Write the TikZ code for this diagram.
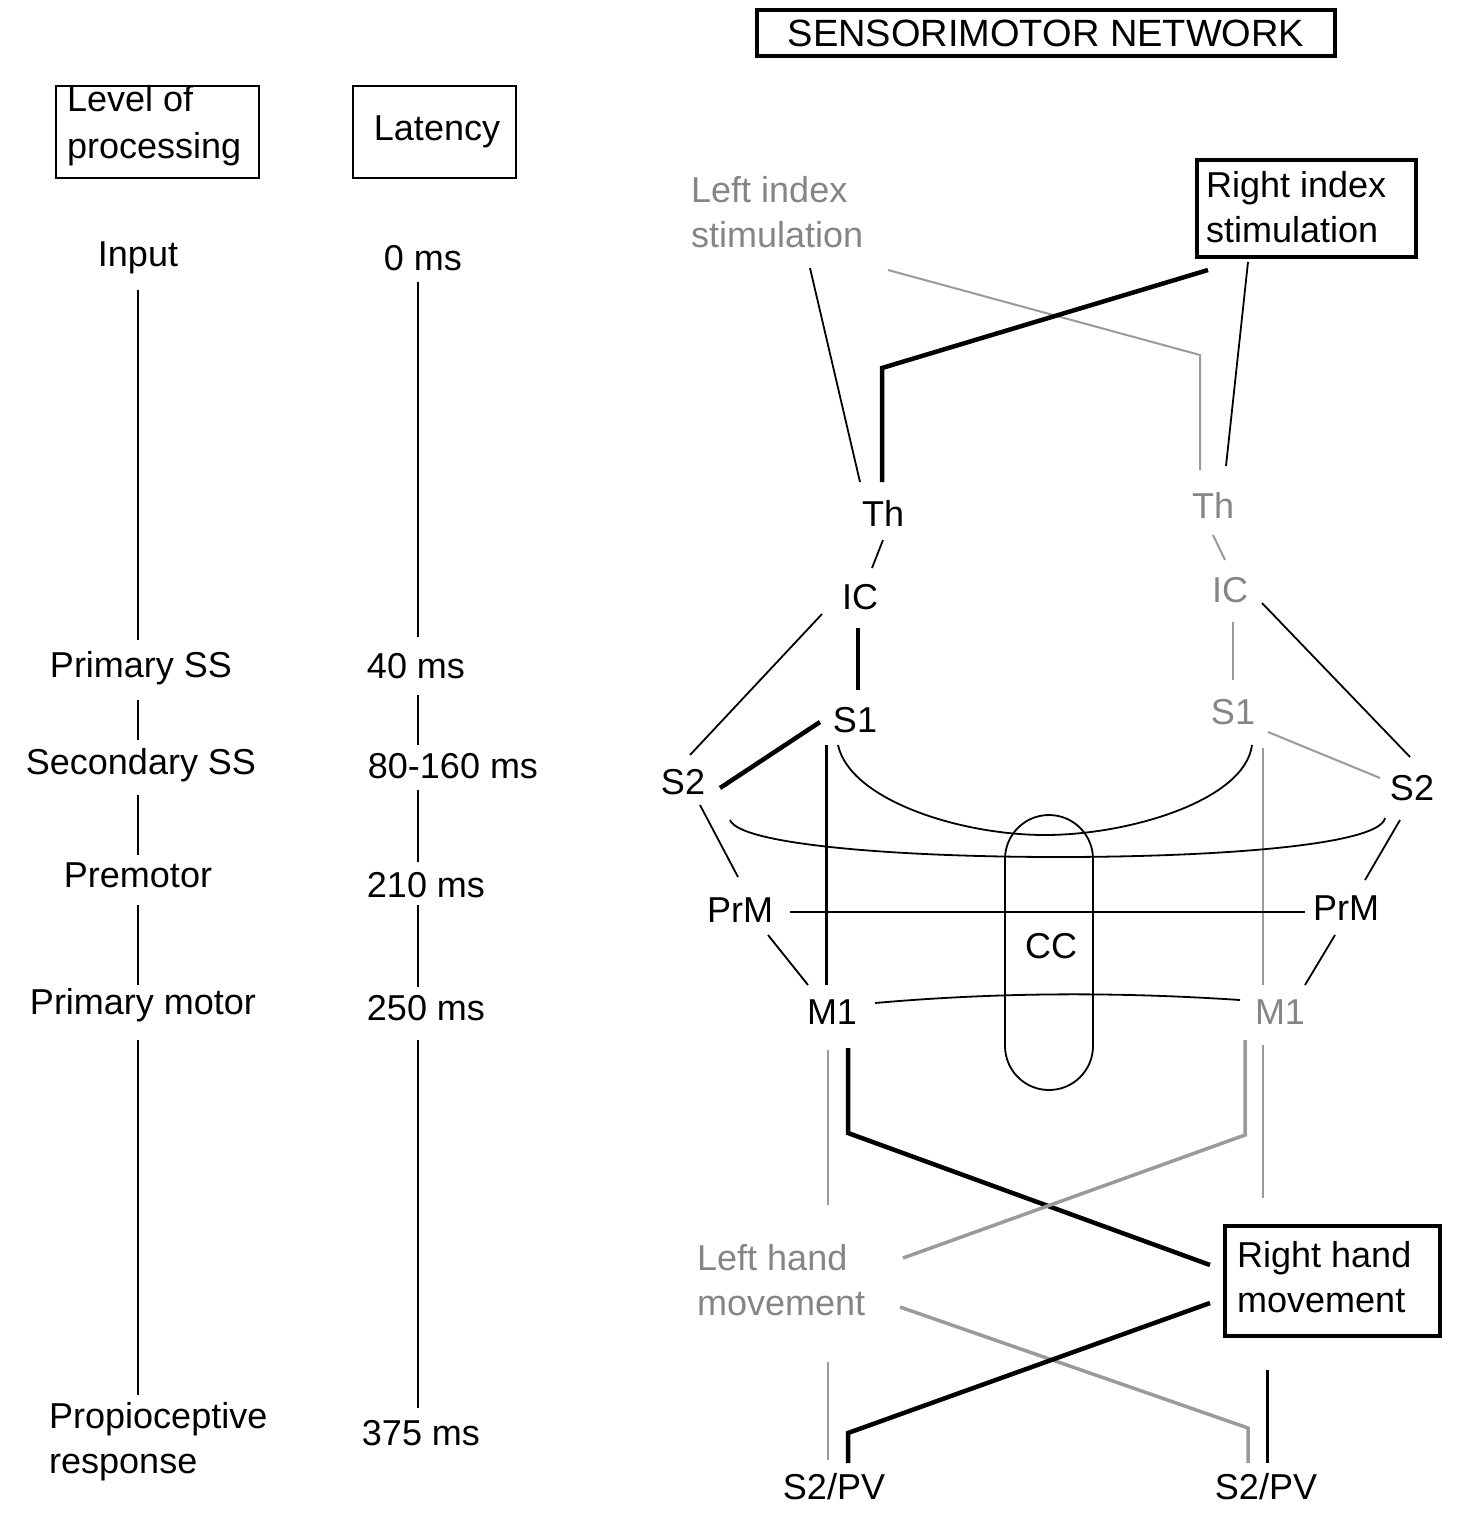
\documentclass[tikz,border=0pt]{standalone}
\usepackage{fontspec}
\setmainfont{Liberation Sans}
\definecolor{gtxt}{HTML}{858585}
\definecolor{gln}{HTML}{9A9A9A}
\begin{document}
\begin{tikzpicture}[x=1pt,y=-1pt,
  t/.style={inner sep=1pt,font=\fontsize{36}{45}\selectfont,align=left},
  g/.style={t,text=gtxt},
  bx/.style={draw,line width=2pt,inner sep=0pt},
  th/.style={line width=1.8pt},
  tk/.style={line width=4.5pt},
  gl/.style={draw=gln,line width=2pt},
  gk/.style={draw=gln,line width=3.5pt}]
\useasboundingbox (0,0) rectangle (1461,1521);
% header boxes
\draw[bx] (56,86) rectangle (259,178);
\node[t,anchor=north west,font=\fontsize{36}{47}\selectfont] (lvl) at (66,84) {Level of\\processing};
\draw[bx] (353,86) rectangle (516,178);
\node[t] (lat) at (437,132) {Latency};
\draw[bx,line width=3.5pt] (757,10) rectangle (1335,56);
\node[t,font=\fontsize{38}{45}\selectfont] (sn) at (1046,33) {SENSORIMOTOR NETWORK};
% left column
\node[t] (in) at (138,258) {Input};
\node[t] (pss) at (141,668) {Primary SS};
\node[t] (sss) at (141,765) {Secondary SS};
\node[t] (pm) at (138,875) {Premotor};
\node[t] (pmo) at (143,1005) {Primary motor};
\node[t,anchor=west] (pr) at (48,1442) {Propioceptive\\response};
\foreach \a/\b in {290/640,700/740,795/855,905/985,1040/1395}
  \draw[th] (138,\a) -- (138,\b);
\node[t] (l0) at (423,258) {0 ms};
\node[t] (l40) at (416,666) {40 ms};
\node[t] (l80) at (453,766) {80-160 ms};
\node[t] (l210) at (426,885) {210 ms};
\node[t] (l250) at (426,1008) {250 ms};
\node[t] (l375) at (421,1433) {375 ms};
\foreach \a/\b in {282/637,695/745,790/862,905/987,1040/1408}
  \draw[th] (418,\a) -- (418,\b);
% network labels
\node[g,anchor=west] (lis) at (690,212) {Left index\\stimulation};
\draw[bx,line width=3.5pt] (1197,160) rectangle (1416,257);
\node[t,anchor=west] (ris) at (1205,207) {Right index\\stimulation};
\node[t] (thl) at (883,513) {Th};
\node[g] (thr) at (1213,505) {Th};
\node[t] (icl) at (860,597) {IC};
\node[g] (icr) at (1230,590) {IC};
\node[t] (s1l) at (855,720) {S1};
\node[g] (s1r) at (1233,712) {S1};
\node[t] (s2l) at (683,782) {S2};
\node[t] (s2r) at (1412,788) {S2};
\node[t] (prl) at (740,910) {PrM};
\node[t] (prr) at (1346,908) {PrM};
\node[t] (m1l) at (832,1012) {M1};
\node[g] (m1r) at (1280,1012) {M1};
\node[t] (cc) at (1051,946) {CC};
\node[g,anchor=west] (lhm) at (696,1280) {Left hand\\movement};
\draw[bx,line width=3.5pt] (1225,1226) rectangle (1440,1336);
\node[t,anchor=west] (rhm) at (1236,1277) {Right hand\\movement};
\node[t] (pvl) at (834,1487) {S2/PV};
\node[t] (pvr) at (1266,1487) {S2/PV};
% connectors top
\draw[th] (810,268) -- (860,482);
\draw[th] (1248,262) -- (1226,466);
\draw[gl] (888,270) -- (1200,355) -- (1200,470);
\draw[tk] (1208,270) -- (882,368) -- (882,482);
\draw[th] (883,540) -- (872,568);
\draw[gl] (1213,535) -- (1225,560);
\draw[tk] (858,628) -- (858,690);
\draw[gl] (1233,622) -- (1233,680);
\draw[th] (822,614) -- (690,755);
\draw[th] (1262,603) -- (1410,757);
\draw[tk] (820,722) -- (720,788);
\draw[gl] (1268,732) -- (1380,778);
\draw[th] (700,805) -- (738,877);
\draw[th] (1400,820) -- (1365,880);
\draw[th] (768,935) -- (808,985);
\draw[th] (1335,935) -- (1305,985);
\draw[line width=3pt] (826,745) -- (826,985);
\draw[gl] (1263,748) -- (1263,985);
\draw[th] (790,912) -- (1305,912);
\draw[th] (875,1003) .. controls (1000,992) and (1120,992) .. (1240,1000);
\draw[th] (838,745) .. controls (850,800) and (960,835) .. (1045,835) .. controls (1130,835) and (1245,800) .. (1252,745);
\draw[th] (730,820) .. controls (740,845) and (900,857) .. (1058,857) .. controls (1220,857) and (1380,845) .. (1385,818);
\draw[th,rounded corners=44pt] (1005,815) rectangle (1093,1090);
% connectors bottom
\draw[gl] (828,1050) -- (828,1205);
\draw[gl] (1263,1045) -- (1263,1198);
\draw[tk] (848,1048) -- (848,1133) -- (1210,1265);
\draw[gk] (1245,1040) -- (1245,1135) -- (903,1258);
\draw[gk] (900,1307) -- (1248,1428) -- (1248,1463);
\draw[tk] (1210,1303) -- (848,1433) -- (848,1463);
\draw[gl] (828,1362) -- (828,1460);
\draw[line width=3pt] (1267,1370) -- (1267,1463);
\end{tikzpicture}
\end{document}
